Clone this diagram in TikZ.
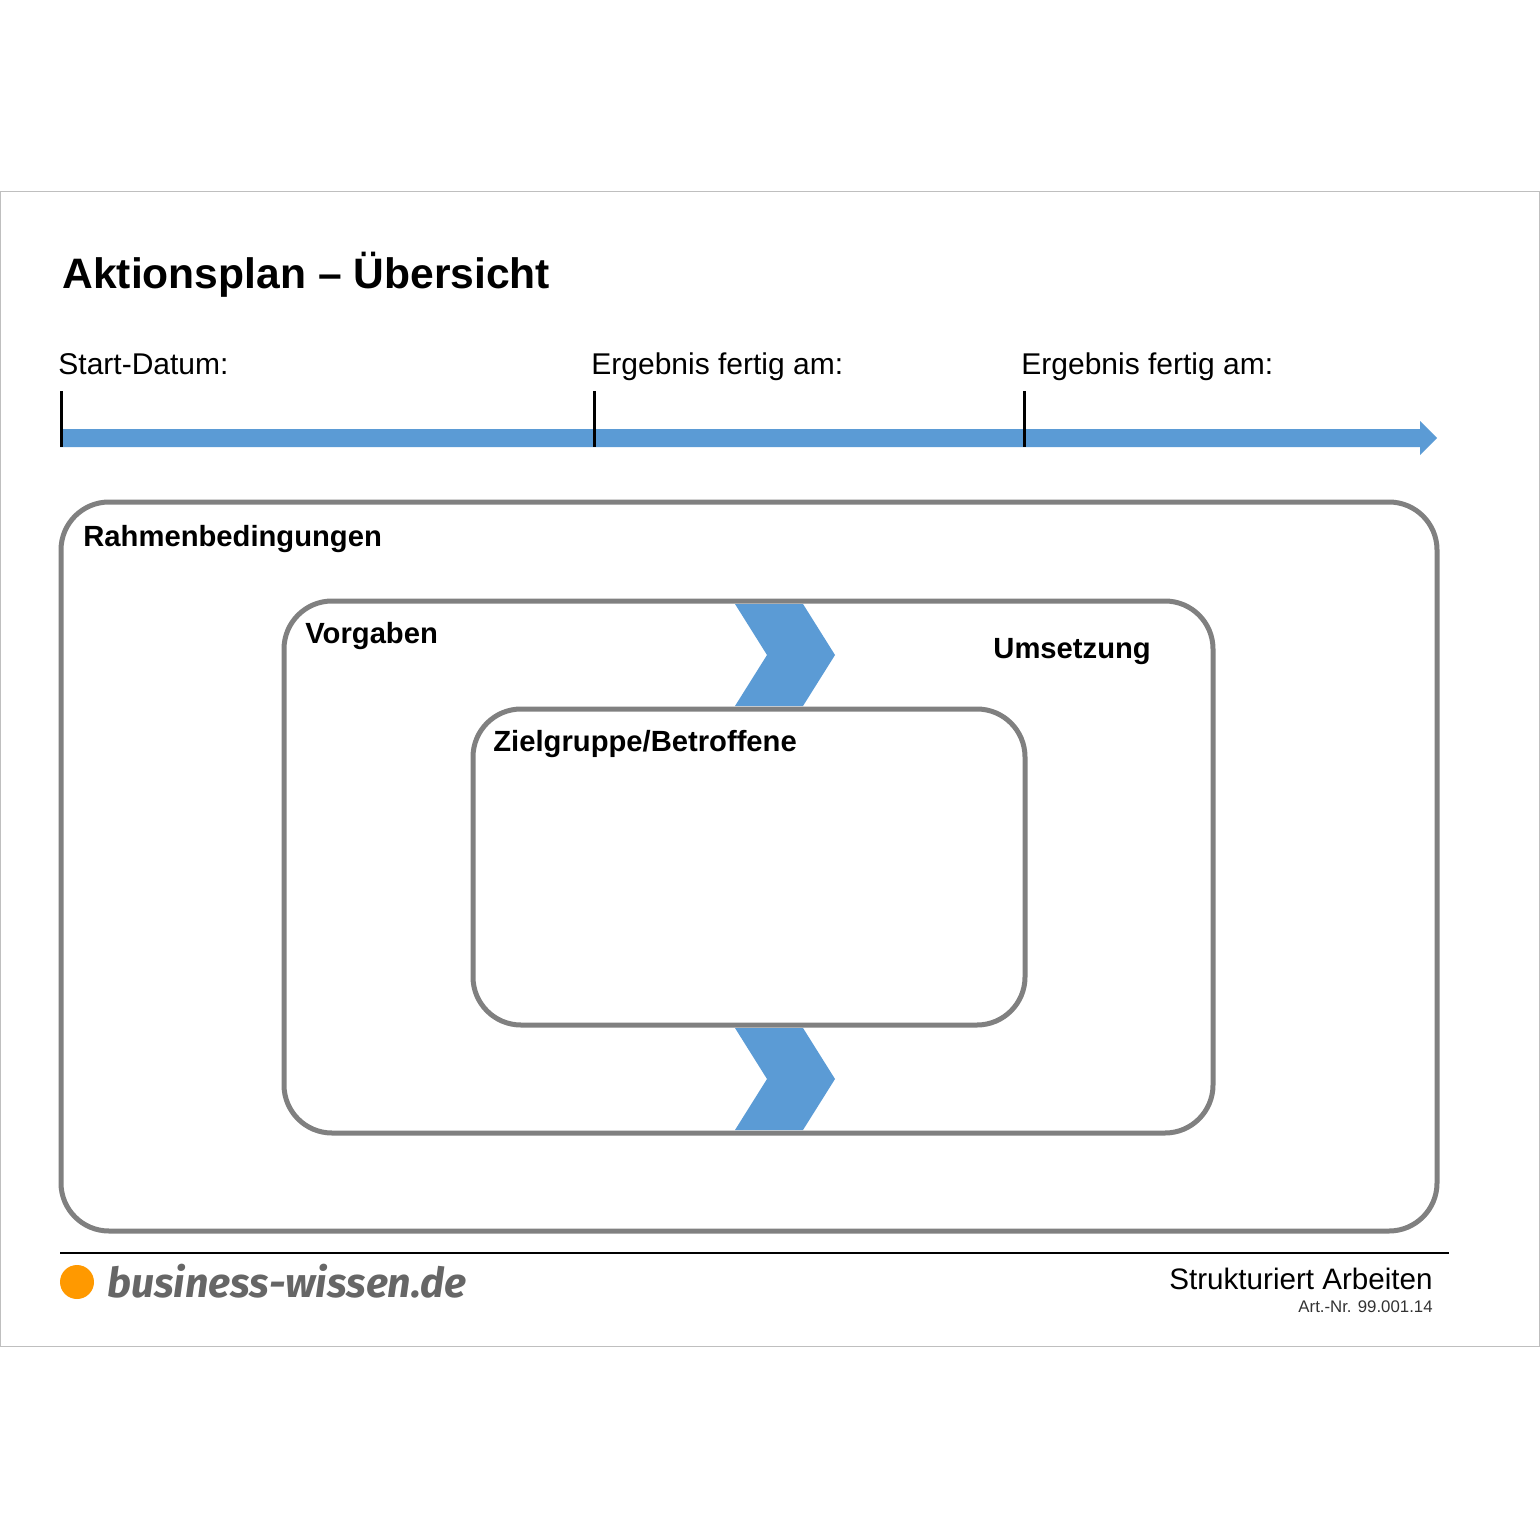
\documentclass[tikz,border=0pt]{standalone}
\usepackage{fontspec}
\setmainfont{Liberation Sans}
\newfontfamily\logofont{Fira Sans}
\begin{document}
\begin{tikzpicture}[x=0.5pt,y=-0.5pt,
  box/.style={draw=black!50, line width=2.5pt, rounded corners=24pt},
  lbl/.style={anchor=base west, inner sep=0pt, font=\fontsize{14.6pt}{17pt}\selectfont\bfseries},
  tl/.style={anchor=base west, inner sep=0pt, font=\fontsize{15pt}{18pt}\selectfont},
  tick/.style={line width=1.5pt, black},
  chev/.style={fill=blueA, draw=none}]
\definecolor{blueA}{HTML}{5B9BD5}
\useasboundingbox (0,0) rectangle (1540,1540);
\draw[black!25, line width=0.5pt] (0.5,192) rectangle (1539,1346);
\node[anchor=base west, inner sep=0pt, font=\fontsize{21.3pt}{24pt}\selectfont\bfseries] (title) at (62,289) {Aktionsplan – Übersicht};
\node[tl] (l1) at (58,374) {Start-Datum:};
\node[tl] (l2) at (591,374) {Ergebnis fertig am:};
\node[tl] (l3) at (1021,374) {Ergebnis fertig am:};
\fill[blueA] (60,429) -- (1420,429) -- (1420,421) -- (1437,438) -- (1420,455) -- (1420,447) -- (60,447) -- cycle;
\draw[tick] (61,391) -- (61,447);
\draw[tick] (594,391) -- (594,447);
\draw[tick] (1024,391) -- (1024,447);
\draw[box] (61,502) rectangle (1437,1231);
\draw[box] (284,601) rectangle (1213,1133);
\fill[chev] (735,604) -- (803,604) -- (835,655) -- (803,706) -- (735,706) -- (767,655) -- cycle;
\fill[chev] (735,1028) -- (803,1028) -- (835,1079) -- (803,1130) -- (735,1130) -- (767,1079) -- cycle;
\draw[box, fill=white] (473,709) rectangle (1025,1025);
\node[lbl] (r) at (83,546) {Rahmenbedingungen};
\node[lbl] (v) at (305,643) {Vorgaben};
\node[lbl] (u) at (993,658) {Umsetzung};
\node[lbl] (z) at (493,751) {Zielgruppe/Betroffene};
\draw[black, line width=1pt] (60,1253) -- (1449,1253);
\fill[fill={rgb,255:red,255;green,153;blue,0}] (77,1282) circle (17);
\node[anchor=base west, inner sep=0pt, text=black!60, font=\logofont\fontsize{20.6pt}{24pt}\selectfont\bfseries\itshape] (logo) at (107,1297) {business-wissen.de};
\node[anchor=base east, inner sep=0pt, font=\fontsize{14.8pt}{17pt}\selectfont] (sa) at (1433,1289) {Strukturiert Arbeiten};
\node[anchor=base east, inner sep=0pt, text=black!80, font=\fontsize{8.4pt}{10pt}\selectfont] (an) at (1433,1312) {Art.-Nr. 99.001.14};
\end{tikzpicture}
\end{document}
